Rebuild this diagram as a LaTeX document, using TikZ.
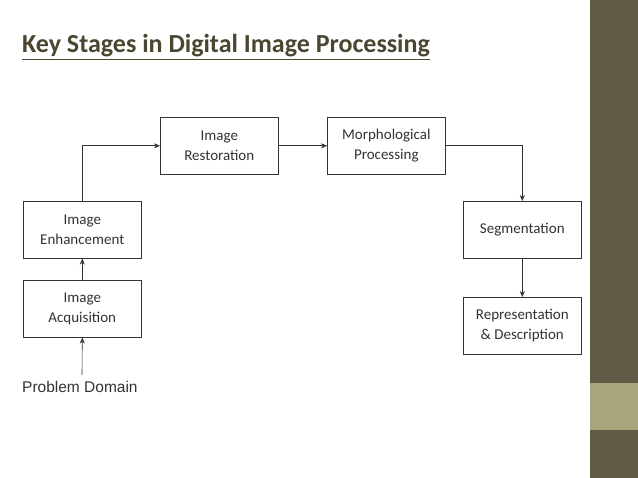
\documentclass[tikz,border=0pt]{standalone}
\usepackage{fontspec}
\setmainfont{Carlito}
\newfontfamily\arialf{Liberation Sans}
\usetikzlibrary{arrows.meta}
\definecolor{olive}{HTML}{5E5A46}
\definecolor{tan}{HTML}{A8A47C}
\definecolor{titlec}{HTML}{4A4630}
\begin{document}
\begin{tikzpicture}[x=1pt,y=-1pt,
  box/.style={draw=black!80,line width=0.6pt,minimum width=118pt,minimum height=57pt,align=center,font=\fontsize{15}{20}\selectfont,text=black!80,anchor=north west,inner sep=0pt},
  arr/.style={draw=black!80,line width=0.6pt,-{Stealth[length=6pt,width=5pt]}}]
\useasboundingbox (0,0) rectangle (638,478);
\fill[white] (0,0) rectangle (590,478);
\fill[olive] (590,0) rectangle (638,478);
\fill[tan] (590,383) rectangle (638,430);
\node[anchor=west,text=titlec,font=\fontsize{26}{30}\selectfont\bfseries,inner sep=0pt] (title) at (22,47) {\underline{Key Stages in Digital Image Processing}};
\node[box] (rest) at (160,117) {Image\\Restoration};
\node[box] (morph) at (327,117) {Morphological\\Processing};
\node[box] (enh) at (23,201) {Image\\Enhancement};
\node[box] (seg) at (463,201) {Segmentation};
\node[box] (acq) at (23,280) {Image\\Acquisition};
\node[box] (rep) at (463,297) {Representation\\\& Description};
\node[anchor=west,font=\arialf\fontsize{15.5}{18}\selectfont,text=black!80,inner sep=0pt] (pd) at (22,387) {Problem Domain};
\coordinate (pdtop) at (82,375);
\draw[arr] (pdtop) -- (acq.south);
\draw[arr] (acq.north) -- (enh.south);
\draw[arr] (enh.north) |- (rest.west);
\draw[arr] (rest.east) -- (morph.west);
\draw[arr] (morph.east) -| (seg.north);
\draw[arr] (seg.south) -- (rep.north);
\end{tikzpicture}
\end{document}
